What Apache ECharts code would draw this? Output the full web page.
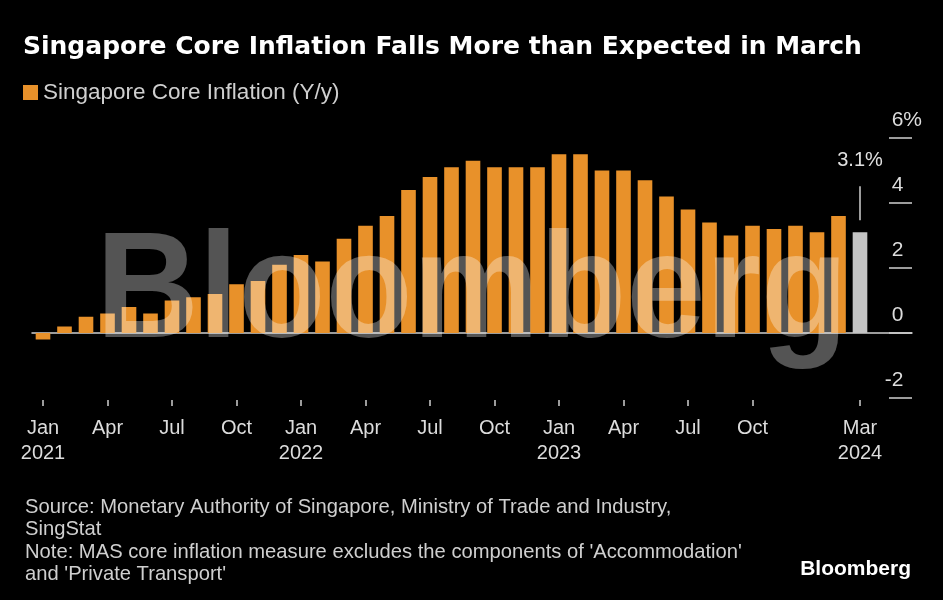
<!DOCTYPE html>
<html>
<head>
<meta charset="utf-8">
<script src="https://cdn.jsdelivr.net/npm/echarts@6/dist/echarts.min.js"></script>
<style>
html,body{margin:0;padding:0;background:#000;}
#c{width:943px;height:600px;}
</style>
</head>
<body>
<div id="c"></div>
<script>
var categories = [
 'Jan 2021','Feb 2021','Mar 2021','Apr 2021','May 2021','Jun 2021','Jul 2021','Aug 2021','Sep 2021','Oct 2021','Nov 2021','Dec 2021',
 'Jan 2022','Feb 2022','Mar 2022','Apr 2022','May 2022','Jun 2022','Jul 2022','Aug 2022','Sep 2022','Oct 2022','Nov 2022','Dec 2022',
 'Jan 2023','Feb 2023','Mar 2023','Apr 2023','May 2023','Jun 2023','Jul 2023','Aug 2023','Sep 2023','Oct 2023','Nov 2023','Dec 2023',
 'Jan 2024','Feb 2024','Mar 2024'
];
var coreInflation = [
 -0.2, 0.2, 0.5, 0.6, 0.8, 0.6, 1.0, 1.1, 1.2, 1.5, 1.6, 2.1,
 2.4, 2.2, 2.9, 3.3, 3.6, 4.4, 4.8, 5.1, 5.3, 5.1, 5.1, 5.1,
 5.5, 5.5, 5.0, 5.0, 4.7, 4.2, 3.8, 3.4, 3.0, 3.3, 3.2, 3.3,
 3.1, 3.6, 3.1
];
var labeledMonths = ['Jan 2021','Apr 2021','Jul 2021','Oct 2021','Jan 2022','Apr 2022','Jul 2022','Oct 2022','Jan 2023','Apr 2023','Jul 2023','Oct 2023','Mar 2024'];
var yearShown = ['Jan 2021','Jan 2022','Jan 2023','Mar 2024'];
var yTicks = [-2, 0, 2, 4, 6];
var latestLabel = '3.1%';

var FONT = "'Liberation Sans', sans-serif";
var ORANGE = '#e8912a';
var GREY = '#c4c4c4';

var barData = coreInflation.map(function (v, i) {
  var item = { value: v };
  if (i === coreInflation.length - 1) {
    item.itemStyle = { color: GREY };
    item.label = {
      show: true, position: 'top', distance: 12,
      formatter: '{v|' + latestLabel + '}\n{l| }',
      rich: {
        v: { fontFamily: FONT, fontSize: 20, color: '#e0e0e0', lineHeight: 22, padding: [0, 0, 30, 0], align: 'center' },
        l: { width: 1.5, height: 34, backgroundColor: '#d0d0d0', align: 'center', fontSize: 1, lineHeight: 34 }
      }
    };
  }
  return item;
});

var chart = echarts.init(document.getElementById('c'));
chart.setOption({
  backgroundColor: '#000',
  animation: false,
  title: [{
    text: 'Singapore Core Inflation Falls More than Expected in March',
    left: 18, top: 30,
    textStyle: { fontFamily: "'DejaVu Sans', sans-serif", fontWeight: 'bold', fontSize: 25, color: '#ffffff' }
  }, {
    text: "Source: Monetary Authority of Singapore, Ministry of Trade and Industry,\nSingStat\nNote: MAS core inflation measure excludes the components of 'Accommodation'\nand 'Private Transport'",
    left: 20, top: 491,
    textStyle: { fontFamily: FONT, fontWeight: 'normal', fontSize: 20.2, lineHeight: 22.5, color: '#cfcfcf' }
  }, {
    text: 'Bloomberg',
    right: 27, top: 554,
    textStyle: { fontFamily: FONT, fontWeight: 'bold', fontSize: 21, color: '#ffffff' }
  }],
  legend: {
    left: 18, top: 76,
    icon: 'rect', itemWidth: 15, itemHeight: 15, itemGap: 10,
    textStyle: { fontFamily: FONT, fontSize: 22.5, color: '#cfcfcf' },
    data: ['Singapore Core Inflation (Y/y)']
  },
  grid: [
    { left: 32.25, top: 138, width: 838.5, height: 260 },
    { left: 32, top: 138, width: 880, height: 260 }
  ],
  xAxis: [{
    type: 'category', gridIndex: 0, data: categories, offset: 2,
    axisLine: { show: false, onZero: false },
    axisTick: {
      show: true, alignWithLabel: true, length: 6,
      interval: function (i, v) { return labeledMonths.indexOf(v) >= 0; },
      lineStyle: { color: '#cfcfcf', width: 1.5 }
    },
    axisLabel: {
      interval: function (i, v) { return labeledMonths.indexOf(v) >= 0; },
      formatter: function (v) {
        var p = v.split(' ');
        return yearShown.indexOf(v) >= 0 ? p[0] + '\n' + p[1] : p[0];
      },
      fontFamily: FONT, fontSize: 20, lineHeight: 25, color: '#dcdcdc', margin: 16
    },
    splitLine: { show: false }
  }, {
    type: 'value', gridIndex: 1, min: 0, max: 1,
    axisLine: { show: true, onZero: true, lineStyle: { color: '#cfcfcf', width: 1.5 } },
    axisTick: { show: false }, axisLabel: { show: false }, splitLine: { show: false }
  }],
  yAxis: [{
    type: 'value', gridIndex: 0, min: yTicks[0], max: yTicks[yTicks.length - 1], interval: 2, show: false
  }, {
    type: 'value', gridIndex: 1, position: 'right',
    min: yTicks[0], max: yTicks[yTicks.length - 1], interval: 2,
    axisLine: { show: false, onZero: false },
    axisTick: { show: true, inside: true, length: 23, lineStyle: { color: '#cfcfcf', width: 1.5 } },
    splitLine: { show: false },
    axisLabel: {
      inside: true, margin: -10, align: 'right', verticalAlign: 'bottom',
      formatter: function (v) {
        return v === yTicks[yTicks.length - 1] ? '{n|' + v + '}{p|%}' : '{n|' + v + '}{h|%}';
      },
      rich: {
        n: { fontFamily: FONT, fontSize: 21, color: '#dcdcdc', lineHeight: 22, padding: [0, 0, 13, 0] },
        p: { fontFamily: FONT, fontSize: 21, color: '#dcdcdc', lineHeight: 22, padding: [0, 0, 13, 0] },
        h: { fontFamily: FONT, fontSize: 21, color: 'rgba(0,0,0,0)', lineHeight: 22, padding: [0, 0, 13, 0] }
      }
    }
  }],
  series: [{
    name: 'Singapore Core Inflation (Y/y)',
    type: 'bar', xAxisIndex: 0, yAxisIndex: 0,
    barCategoryGap: '32%',
    itemStyle: { color: ORANGE },
    data: barData
  }],
  graphic: [{
    type: 'text', z: 100, silent: true,
    x: 472, y: 296, scaleX: 0.95,
    style: {
      text: 'Bloomberg', x: 0, y: 0,
      font: "bold 150px 'Liberation Sans', sans-serif",
      fill: 'rgba(255,255,255,0.33)', textAlign: 'center', textVerticalAlign: 'middle'
    }
  }]
});
</script>
</body>
</html>
